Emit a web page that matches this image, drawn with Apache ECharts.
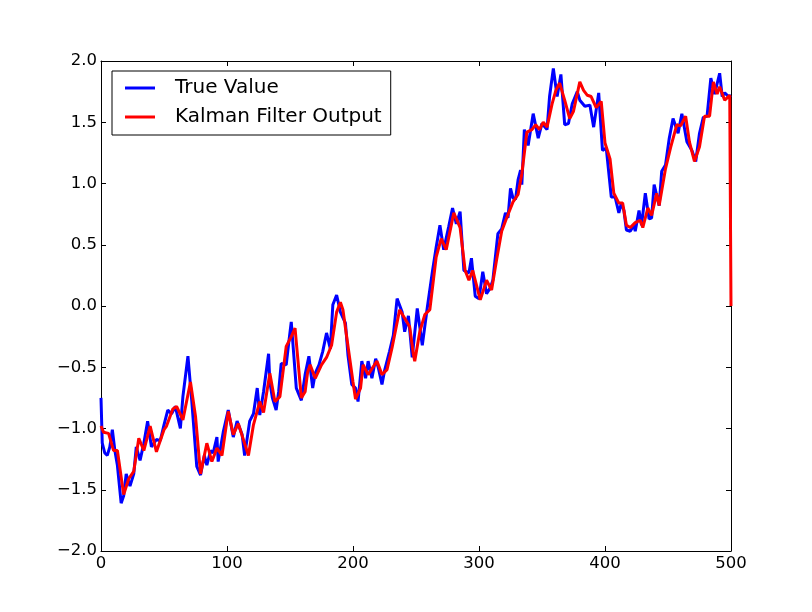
<!DOCTYPE html>
<html>
<head>
<meta charset="utf-8">
<title>Kalman Filter</title>
<script src="https://cdn.jsdelivr.net/npm/echarts@6/dist/echarts.min.js"></script>
<style>
  html, body { margin: 0; padding: 0; background: #fff; }
  #chart { width: 812px; height: 612px; }
</style>
</head>
<body>
<div id="chart"></div>
<script>
// values (x = step, y = value)
const trueX = [0, 1, 3, 5, 7, 9, 11, 13, 16, 18, 20, 23, 26, 28, 31, 34, 37, 40, 44, 47, 50, 53, 56, 59, 63, 65, 69, 72, 76, 79, 82, 84, 87, 89, 92, 93, 97, 101, 105, 108, 112, 114, 118, 121, 124, 126, 129, 133, 134, 136, 139, 141, 143, 147, 149, 151, 153, 155, 159, 162, 165, 168, 170, 173, 176, 179, 182, 184, 187, 190, 194, 196, 199, 202, 204, 207, 210, 212, 215, 218, 220, 223, 225, 229, 232, 235, 239, 241, 244, 247, 251, 255, 259, 263, 266, 269, 272, 276, 279, 282, 285, 288, 292, 294, 297, 300, 303, 306, 309, 311, 315, 318, 321, 323, 325, 327, 329, 331, 333, 334, 336, 339, 343, 347, 350, 354, 356, 359, 362, 365, 368, 371, 374, 378, 380, 384, 388, 391, 395, 398, 401, 405, 408, 411, 413, 415, 417, 420, 423, 424, 427, 429, 432, 435, 437, 439, 443, 445, 448, 451, 454, 458, 461, 465, 469, 472, 475, 478, 481, 484, 487, 491, 493, 495, 498, 500];
const trueY = [-0.75, -1.12, -1.2, -1.22, -1.15, -1.01, -1.18, -1.3, -1.61, -1.55, -1.37, -1.47, -1.37, -1.15, -1.26, -1.12, -0.94, -1.15, -1.09, -1.1, -0.97, -0.85, -0.88, -0.82, -1.0, -0.74, -0.41, -0.77, -1.31, -1.38, -1.22, -1.3, -1.18, -1.2, -1.07, -1.27, -1.03, -0.85, -1.07, -0.94, -1.05, -1.22, -0.94, -0.88, -0.67, -0.89, -0.7, -0.39, -0.62, -0.75, -0.85, -0.7, -0.47, -0.48, -0.3, -0.13, -0.4, -0.67, -0.77, -0.56, -0.41, -0.67, -0.55, -0.48, -0.37, -0.22, -0.35, 0.01, 0.09, -0.05, -0.14, -0.4, -0.64, -0.67, -0.78, -0.45, -0.59, -0.45, -0.59, -0.43, -0.5, -0.64, -0.53, -0.37, -0.24, 0.06, -0.05, -0.21, -0.08, -0.42, -0.02, -0.32, -0.01, 0.28, 0.48, 0.66, 0.46, 0.65, 0.8, 0.67, 0.77, 0.29, 0.27, 0.39, 0.08, 0.06, 0.28, 0.1, 0.15, 0.21, 0.59, 0.63, 0.76, 0.72, 0.96, 0.88, 0.87, 1.03, 1.11, 0.99, 1.44, 1.31, 1.57, 1.37, 1.49, 1.44, 1.71, 1.94, 1.71, 1.89, 1.48, 1.49, 1.65, 1.75, 1.68, 1.63, 1.64, 1.46, 1.74, 1.27, 1.29, 0.89, 0.89, 0.76, 0.84, 0.78, 0.62, 0.61, 0.66, 0.61, 0.78, 0.66, 0.92, 0.71, 0.72, 0.99, 0.82, 1.1, 1.15, 1.37, 1.53, 1.41, 1.57, 1.34, 1.27, 1.18, 1.41, 1.54, 1.55, 1.86, 1.73, 1.9, 1.71, 1.74, 1.71, 1.72];

const kalmanX = [0, 2, 6, 10, 13, 18, 22, 26, 30, 34, 39, 44, 50, 52, 57, 60, 65, 71, 75, 79, 80, 84, 88, 92, 96, 101, 105, 109, 117, 121, 126, 129, 134, 138, 142, 147, 151, 154, 159, 162, 164, 166, 170, 175, 179, 183, 187, 190, 192, 200, 202, 206, 208, 212, 219, 223, 227, 231, 237, 241, 245, 248, 249, 253, 257, 261, 266, 270, 274, 280, 285, 289, 292, 295, 301, 306, 310, 314, 318, 322, 327, 331, 334, 338, 342, 345, 348, 351, 354, 358, 361, 364, 368, 372, 375, 380, 383, 386, 389, 393, 397, 400, 404, 407, 411, 414, 417, 420, 424, 428, 430, 434, 437, 441, 443, 448, 452, 457, 460, 464, 467, 471, 475, 479, 483, 486, 489, 491, 495, 499, 500];
const kalmanY = [-0.98, -1.03, -1.04, -1.18, -1.18, -1.54, -1.41, -1.35, -1.08, -1.18, -0.98, -1.19, -1.01, -0.98, -0.84, -0.82, -0.93, -0.62, -0.9, -1.37, -1.36, -1.12, -1.27, -1.16, -1.22, -0.86, -1.05, -0.96, -1.22, -0.97, -0.78, -0.87, -0.55, -0.78, -0.74, -0.33, -0.25, -0.18, -0.75, -0.7, -0.54, -0.48, -0.59, -0.48, -0.42, -0.32, -0.05, 0.03, -0.03, -0.62, -0.76, -0.67, -0.48, -0.56, -0.45, -0.56, -0.52, -0.34, -0.03, -0.1, -0.17, -0.4, -0.45, -0.21, -0.07, -0.03, 0.4, 0.55, 0.46, 0.76, 0.64, 0.29, 0.21, 0.29, 0.05, 0.21, 0.13, 0.38, 0.61, 0.72, 0.85, 0.91, 1.08, 1.42, 1.44, 1.48, 1.44, 1.5, 1.46, 1.65, 1.76, 1.82, 1.68, 1.53, 1.59, 1.83, 1.76, 1.72, 1.71, 1.62, 1.67, 1.33, 1.2, 0.92, 0.84, 0.84, 0.66, 0.64, 0.68, 0.7, 0.64, 0.8, 0.74, 0.92, 0.82, 1.12, 1.29, 1.48, 1.47, 1.55, 1.34, 1.18, 1.3, 1.55, 1.55, 1.83, 1.73, 1.79, 1.68, 1.72, 0];

const seriesNames = ['True Value', 'Kalman Filter Output'];
const xTicks = { min: 0, max: 500, interval: 100 };
const yTicks = { min: -2, max: 2, interval: 0.5 };

function pairs(xs, ys) {
  return xs.map((x, i) => [x, ys[i]]);
}

const font = 'DejaVu Sans';
const chart = echarts.init(document.getElementById('chart'));

// frame axis: black line, ticks pointing inward, no labels
function frameAxis(extra) {
  return Object.assign({
    type: 'value',
    axisLine: { show: true, onZero: false, lineStyle: { color: '#000', width: 1 } },
    axisTick: { show: true, inside: true, length: 5, lineStyle: { color: '#000' } },
    axisLabel: { show: false },
    splitLine: { show: false }
  }, extra);
}

const labelStyle = { show: true, color: '#000', fontFamily: font, fontSize: 16.5 };

chart.setOption({
  animation: false,
  backgroundColor: '#fff',
  grid: { left: 101, top: 61, width: 630, height: 490 },
  legend: {
    left: 112,
    top: 71,
    orient: 'vertical',
    data: seriesNames,
    icon: 'rect',
    itemWidth: 30,
    itemHeight: 3,
    itemGap: 7,
    padding: [6, 9, 7, 13],
    borderColor: '#000',
    borderWidth: 1,
    borderRadius: 0,
    backgroundColor: '#fff',
    textStyle: { color: '#000', fontFamily: font, fontSize: 20, lineHeight: 22, padding: [0, 0, 0, 15] }
  },
  xAxis: [
    frameAxis(Object.assign({ position: 'bottom', axisLabel: Object.assign({ margin: 4 }, labelStyle) }, xTicks)),
    frameAxis(Object.assign({ position: 'top' }, xTicks))
  ],
  yAxis: [
    frameAxis(Object.assign({
      position: 'left',
      axisLabel: Object.assign({ margin: 4, formatter: v => v.toFixed(1).replace('-', '\u2212') }, labelStyle)
    }, yTicks)),
    frameAxis(Object.assign({ position: 'right' }, yTicks))
  ],
  series: [
    {
      name: seriesNames[0],
      type: 'line',
      symbol: 'none',
      color: '#0000ff',
      lineStyle: { color: '#0000ff', width: 3 },
      data: pairs(trueX, trueY)
    },
    {
      name: seriesNames[1],
      type: 'line',
      symbol: 'none',
      color: '#ff0000',
      lineStyle: { color: '#ff0000', width: 3 },
      data: pairs(kalmanX, kalmanY)
    }
  ]
});
</script>
</body>
</html>
